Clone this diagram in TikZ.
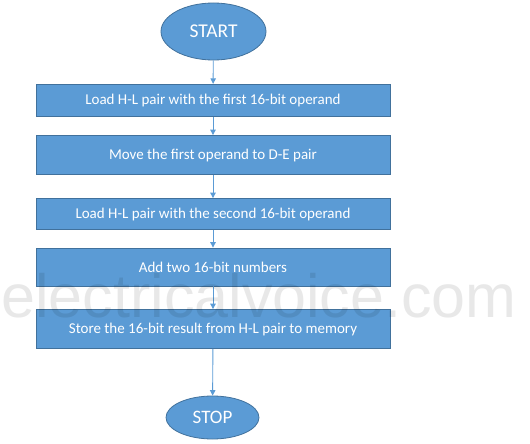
\documentclass[tikz,border=0pt]{standalone}
\usepackage{fontspec}
\setmainfont{Carlito}
\newfontfamily\wmfont{Liberation Sans}
\usetikzlibrary{shapes.geometric,arrows.meta}
\definecolor{boxfill}{HTML}{5B9BD5}
\definecolor{boxline}{HTML}{41719C}
\tikzset{
  stepbox/.style={rectangle, fill=boxfill, draw=boxline, line width=0.8pt, minimum width=354pt, text=white, font=\fontsize{15}{17}\selectfont, inner sep=0pt},
  term/.style={ellipse, fill=boxfill, draw=boxline, line width=0.8pt, text=white, inner sep=0pt},
  flow/.style={draw=boxfill, line width=0.9pt, -{Triangle[width=5.5pt,length=5.5pt]}}
}
\begin{document}
\begin{tikzpicture}[x=1pt,y=-1pt]
\useasboundingbox (0,0) rectangle (530,444);
\node[term, minimum width=105pt, minimum height=57pt, font=\fontsize{19.5}{22}\selectfont] (start) at (213.5,31.5) {START};
\node[stepbox, minimum height=32.5pt] (b1) at (213,100.5) {Load H-L pair with the first 16-bit operand};
\node[stepbox, minimum height=39pt] (b2) at (213,155) {Move the first operand to D-E pair};
\node[stepbox, minimum height=31pt] (b3) at (213,214) {Load H-L pair with the second 16-bit operand};
\node[stepbox, minimum height=38pt] (b4) at (213,267) {Add two 16-bit numbers};
\node[stepbox, minimum height=39pt] (b5) at (213,329) {Store the 16-bit result from H-L pair to memory};
\node[term, minimum width=93pt, minimum height=43pt, font=\fontsize{19}{22}\selectfont] (stop) at (212.5,417.5) {STOP};
\draw[flow] (start) -- (b1);
\draw[flow] (b1) -- (b2);
\draw[flow] (b2) -- (b3);
\draw[flow] (b3) -- (b4);
\draw[flow] (b4) -- (b5);
\draw[flow] (b5) -- (stop);
\node[anchor=base, inner sep=0pt, text=black, text opacity=0.09, font=\wmfont\fontsize{61}{61}\selectfont] (wm) at (259,317) {electricalvoice.com};
\end{tikzpicture}
\end{document}
